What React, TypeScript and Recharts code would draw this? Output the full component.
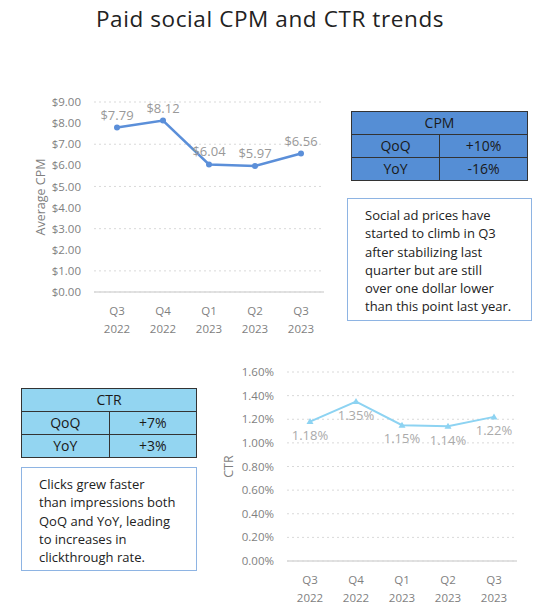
import React from 'react';
import { LineChart, Line, XAxis, YAxis, CartesianGrid, LabelList, Label } from 'recharts';

const categories = ['Q3 2022', 'Q4 2022', 'Q1 2023', 'Q2 2023', 'Q3 2023'];
const cpmValues = [7.79, 8.12, 6.04, 5.97, 6.56];
const ctrValues = [1.18, 1.35, 1.15, 1.14, 1.22];
const cpmTicks = [0, 1, 2, 3, 4, 5, 6, 7, 8, 9];
const ctrTicks = [0, 0.2, 0.4, 0.6, 0.8, 1.0, 1.2, 1.4, 1.6];
const cpmTable = [['QoQ', '+10%'], ['YoY', '-16%']];
const ctrTable = [['QoQ', '+7%'], ['YoY', '+3%']];
const cpmNote = ['Social ad prices have', 'started to climb in Q3', 'after stabilizing last', 'quarter but are still', 'over one dollar lower', 'than this point last year.'];
const ctrNote = ['Clicks grew faster', 'than impressions both', 'QoQ and YoY, leading', 'to increases in', 'clickthrough rate.'];

const cpmData = categories.map((c, i) => ({ cat: c, v: cpmValues[i] }));
const ctrData = categories.map((c, i) => ({ cat: c, v: ctrValues[i] }));

const FONT = '"Open Sans", "Noto Sans", sans-serif';
const TICK = '#7f7f7f';

const TwoLineTick = (props: any) => {
  const { x, y, payload } = props;
  const [a, b] = String(payload.value).split(' ');
  return (
    <g>
      <text x={x} y={y + 14.5} textAnchor="middle" fill={TICK} fontSize={11.5} fontFamily={FONT}>{a}</text>
      <text x={x} y={y + 32.5} textAnchor="middle" fill={TICK} fontSize={11.5} fontFamily={FONT}>{b}</text>
    </g>
  );
};

const Triangle = (props: any) => {
  const { cx, cy } = props;
  if (cx == null || cy == null) return null;
  return <path d={`M${cx},${cy - 3.5} L${cx + 3.5},${cy + 2.5} L${cx - 3.5},${cy + 2.5} Z`} fill="#8DD3F2" />;
};

const yLabel = (text: string, dx: number) => (props: any) => {
  const vb = props.viewBox;
  const x = vb.x + dx;
  const y = vb.y + vb.height / 2;
  return (
    <text x={x} y={y} transform={`rotate(-90, ${x}, ${y})`} textAnchor="middle" dominantBaseline="central" fill={TICK} fontSize={12.5} fontFamily={FONT}>{text}</text>
  );
};

const tableStyle = (bg: string): React.CSSProperties => ({
  position: 'absolute',
  borderCollapse: 'collapse',
  fontFamily: FONT,
  fontSize: 14,
  color: '#1a1a1a',
  background: bg,
  tableLayout: 'fixed',
});

const cell: React.CSSProperties = { border: '1px solid #333', height: 22, padding: 0, textAlign: 'center', lineHeight: '22px' };

const StatTable = ({ title, rows, bg, left, top, width, split }: any) => (
  <table style={{ ...tableStyle(bg), left, top, width }}>
    <tbody>
      <tr><td colSpan={2} style={cell}>{title}</td></tr>
      {rows.map((r: string[], i: number) => (
        <tr key={i}>
          <td style={{ ...cell, width: split }}>{r[0]}</td>
          <td style={cell}>{r[1]}</td>
        </tr>
      ))}
    </tbody>
  </table>
);

const Note = ({ lines, left, top, width, height }: any) => (
  <div style={{ position: 'absolute', left, top, width, height, boxSizing: 'border-box', border: '1px solid #8EB4E3', padding: '7px 0 0 17px', fontFamily: FONT, fontSize: 13, lineHeight: '18.3px', color: '#222', whiteSpace: 'nowrap' }}>
    {lines.map((l: string, i: number) => <div key={i}>{l}</div>)}
  </div>
);

export default function App() {
  return (
    <div style={{ position: 'absolute', left: 0, top: 0, width: 550, height: 612, background: '#fff', fontFamily: FONT }}>
      <div style={{ position: 'absolute', left: 0, top: 3, width: 540, textAlign: 'center', fontSize: 22.5, letterSpacing: 0.6, color: '#222', fontFamily: FONT, fontWeight: 400 }}>
        Paid social CPM and CTR trends
      </div>

      <div style={{ position: 'absolute', left: 20, top: 90 }}>
        <LineChart width={310} height={250} data={cpmData} margin={{ top: 12, right: 6, left: 0, bottom: 8 }}>
          <CartesianGrid vertical={false} stroke="#d9d9d9" strokeDasharray="2 3" />
          <XAxis dataKey="cat" tick={<TwoLineTick />} tickLine={false} axisLine={{ stroke: '#d9d9d9', strokeWidth: 1.5 }} height={40} interval={0} padding={{ left: 23, right: 23 }} />
          <YAxis domain={[0, 9]} ticks={cpmTicks} tickFormatter={(v: number) => `$${v.toFixed(2)}`} axisLine={false} tickLine={false} width={74} tickMargin={7} tick={{ fill: TICK, fontSize: 11.5, fontFamily: FONT }}>
            <Label content={yLabel('Average CPM', 20)} />
          </YAxis>
          <Line dataKey="v" stroke="#5B8FD9" strokeWidth={2.5} dot={{ r: 3, fill: '#5B8FD9', stroke: '#5B8FD9', strokeWidth: 0 }} isAnimationActive={false}>
            <LabelList dataKey="v" position="top" offset={8} formatter={(v: any) => `$${Number(v).toFixed(2)}`} style={{ fill: '#999', fontSize: 13, fontFamily: FONT }} />
          </Line>
        </LineChart>
      </div>

      <StatTable title="CPM" rows={cpmTable} bg="#558ED5" left={351} top={111} width={177} split={88} />
      <Note lines={cpmNote} left={347} top={198} width={185} height={123} />

      <StatTable title="CTR" rows={ctrTable} bg="#93D5F1" left={21} top={388} width={176} split={88} />
      <Note lines={ctrNote} left={21} top={467} width={176} height={104} />

      <div style={{ position: 'absolute', left: 215, top: 360 }}>
        <LineChart width={310} height={250} data={ctrData} margin={{ top: 12, right: 8, left: 0, bottom: 9 }}>
          <CartesianGrid vertical={false} stroke="#d9d9d9" strokeDasharray="2 3" />
          <XAxis dataKey="cat" tick={<TwoLineTick />} tickLine={false} axisLine={{ stroke: '#d9d9d9', strokeWidth: 1.5 }} height={40} interval={0} padding={{ left: 23, right: 23 }} />
          <YAxis domain={[0, 1.6]} ticks={ctrTicks} tickFormatter={(v: number) => `${v.toFixed(2)}%`} axisLine={false} tickLine={false} width={72} tickMargin={7} tick={{ fill: TICK, fontSize: 11.5, fontFamily: FONT }}>
            <Label content={yLabel('CTR', 13)} />
          </YAxis>
          <Line dataKey="v" stroke="#8DD3F2" strokeWidth={2} dot={<Triangle />} isAnimationActive={false}>
            <LabelList dataKey="v" position="bottom" offset={9} formatter={(v: any) => `${Number(v).toFixed(2)}%`} style={{ fill: '#aaa', fontSize: 13, fontFamily: FONT }} />
          </Line>
        </LineChart>
      </div>
    </div>
  );
}
